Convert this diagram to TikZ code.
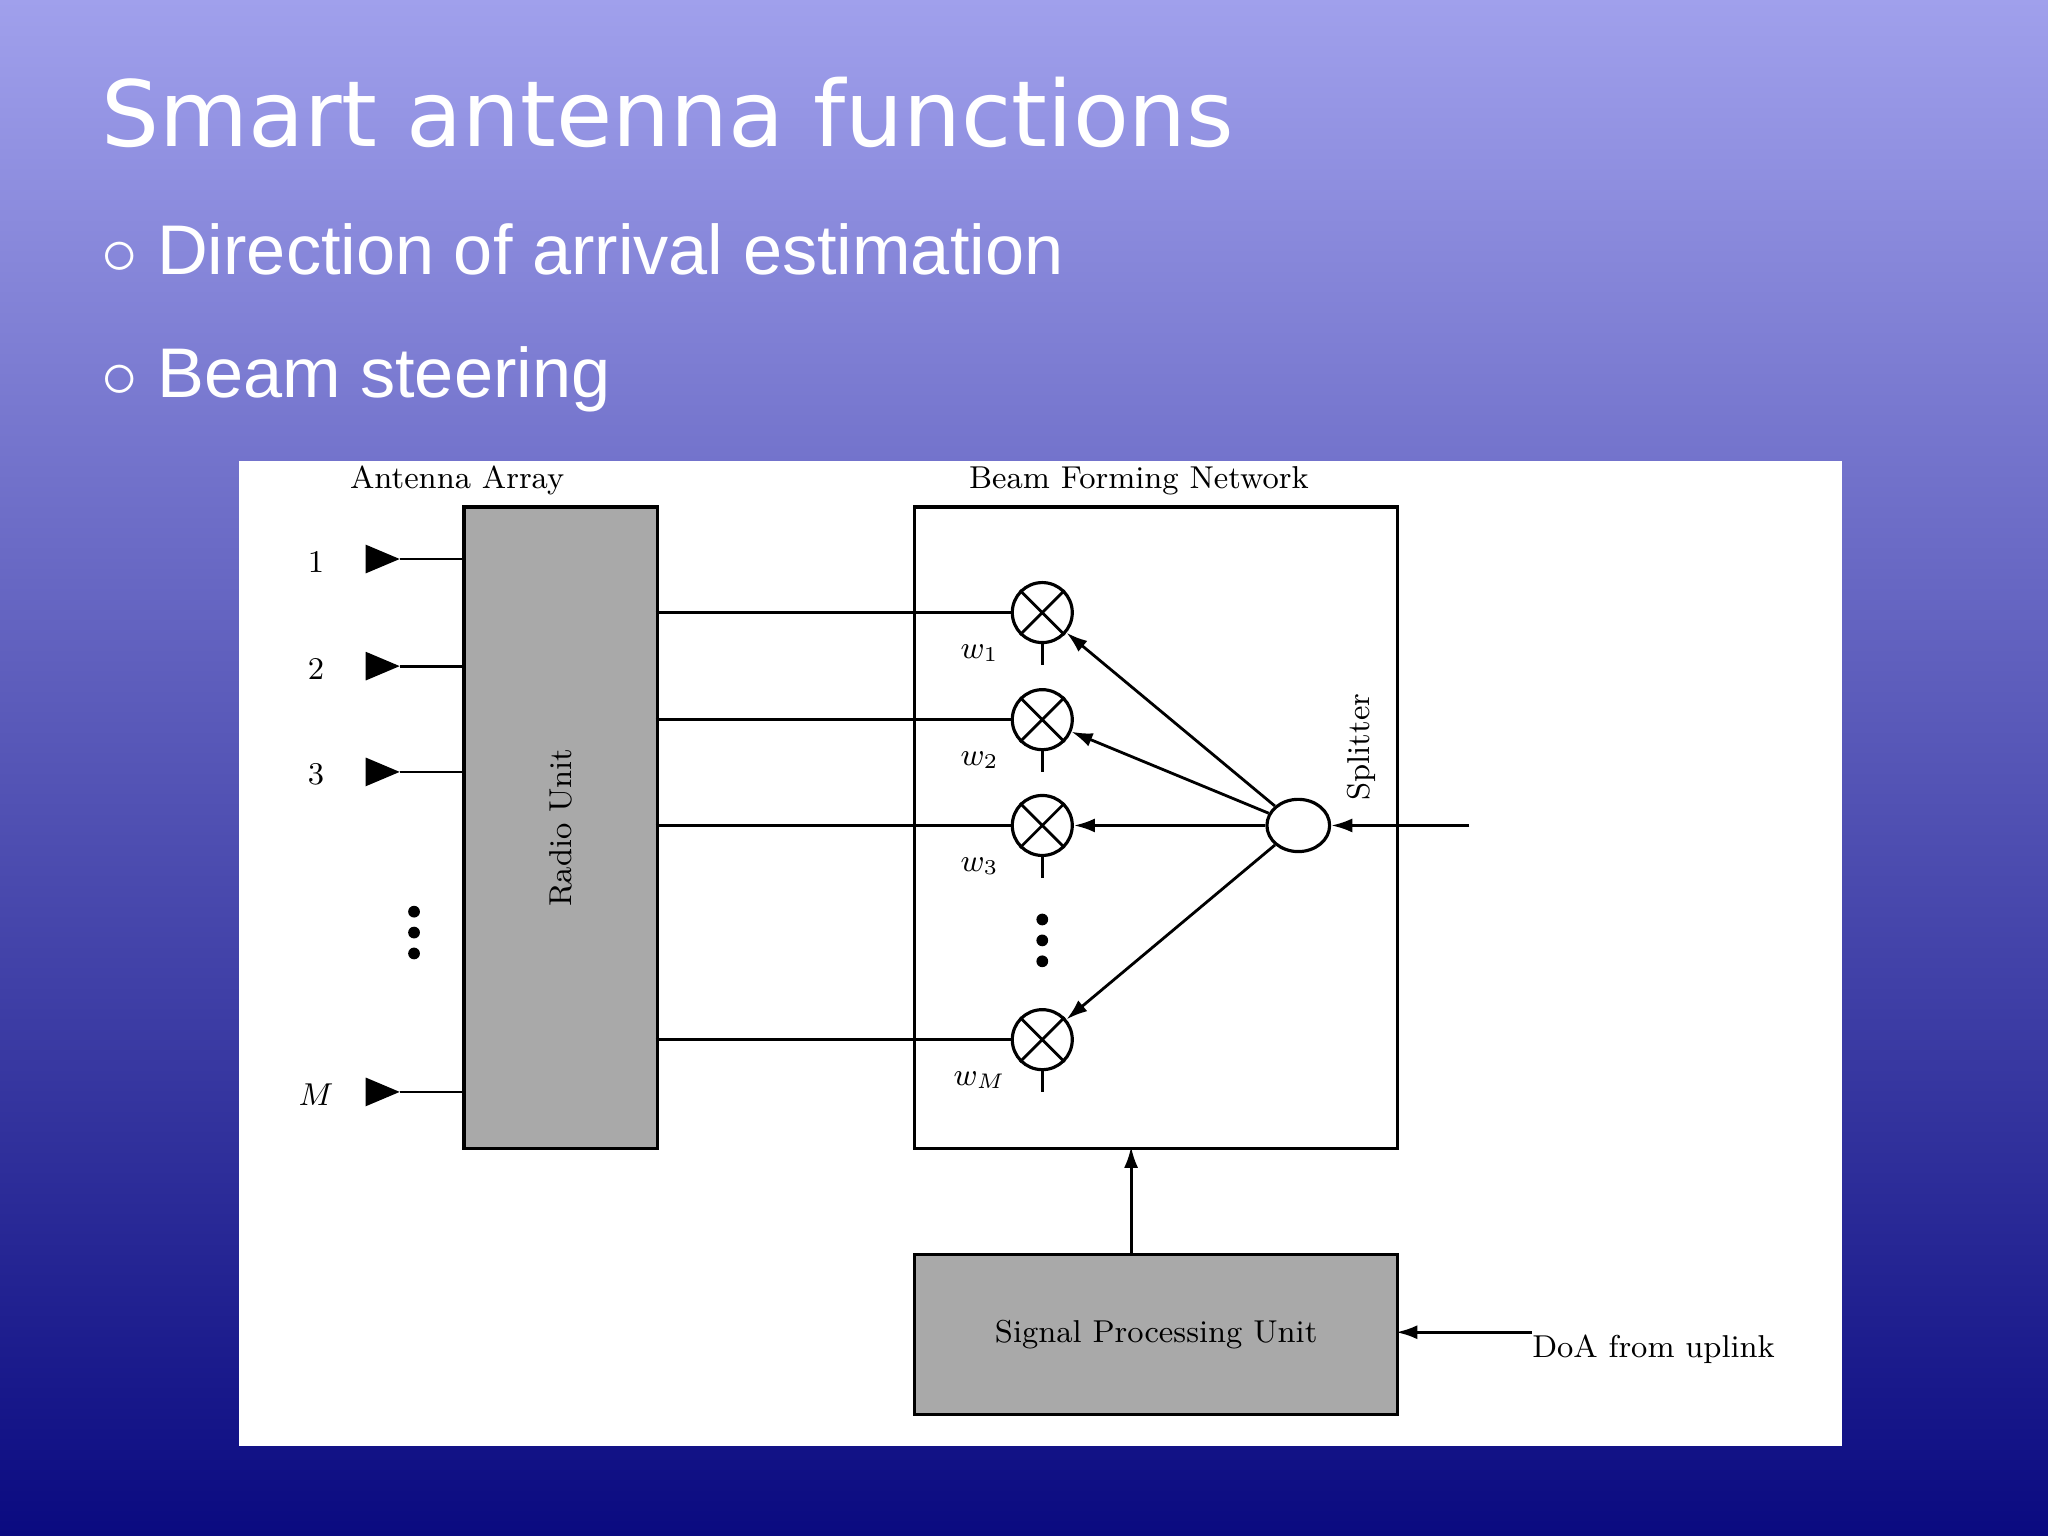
\documentclass[tikz,border=0pt]{standalone}
\usepackage{fontspec}
\setsansfont{Liberation Sans}
\newfontfamily\titlefont{DejaVu Sans}
\usetikzlibrary{arrows.meta,shapes.geometric}
\definecolor{grayfill}{HTML}{A9A9A9}
\begin{document}
\begin{tikzpicture}[x=0.013061cm,y=-0.013061cm,
  lbl/.style={font=\fontsize{9}{10}\selectfont},
  mult/.style={circle,draw,line width=0.9pt,minimum size=0.6cm,inner sep=0pt},
  wire/.style={line width=0.8pt},
  arr/.style={line width=0.8pt,-{Latex[length=6pt,width=4pt]}},
  gbox/.style={draw,line width=0.9pt,fill=grayfill},
  ant/.style={fill=black}]
\useasboundingbox (0,0) rectangle (1568,1176);
\shade[top color={rgb,255:red,160;green,160;blue,236},middle color={rgb,255:red,100;green,100;blue,200},bottom color={rgb,255:red,10;green,10;blue,128}] (0,0) rectangle (1568,1176);
\node[anchor=base west,text=white,font=\titlefont\fontsize{26}{30}\selectfont] (title) at (68,112) {Smart antenna functions};
\node[anchor=base west,text=white,font=\sffamily\fontsize{20}{24}\selectfont] (b1) at (68,210) {$\circ$ Direction of arrival estimation};
\node[anchor=base west,text=white,font=\sffamily\fontsize{20}{24}\selectfont] (b2) at (68,304) {$\circ$ Beam steering};
\fill[white] (183,353) rectangle (1410,1107);
% antenna array
\node[lbl] (aa) at (350,368) {Antenna Array};
\node[gbox,minimum width=148*0.013061cm,minimum height=491*0.013061cm,anchor=north west] (ru) at (354,387) {};
\node[lbl,rotate=90] at (ru.center) {Radio Unit};
\foreach \y/\t [count=\i] in {428/1,510/2,591/3,836/$M$}{
  \fill[ant] (280,\y-11) -- (306,\y) -- (280,\y+11) -- cycle;
  \coordinate (a\i) at (306,\y);
  \draw[wire] (a\i) -- (354,\y);
  \node[lbl] (al\i) at (242,\y+2) {\t};
}
\foreach \y in {698,714,730} \fill (317,\y) circle (4.5);
% BFN
\node[lbl] (bt) at (872,368) {Beam Forming Network};
\node[draw,line width=0.9pt,minimum width=370*0.013061cm,minimum height=491*0.013061cm,anchor=north west] (bfn) at (699,387) {};
\foreach \y/\w [count=\i] in {469/1,551/2,632/3,796/M}{
  \node[mult] (m\i) at (798,\y) {};
  \draw[wire] (m\i.north west) -- (m\i.south east) (m\i.north east) -- (m\i.south west);
  \draw[wire] (502,\y) -- (m\i.west);
  \draw[wire] (m\i.south) -- (798,\y+40);
  \node[lbl] (wl\i) at (750,\y+31) {$w_{\w}$};
}
\foreach \y in {704,720,736} \fill (798,\y) circle (4.5);
\node[ellipse,draw,line width=0.9pt,minimum width=48*0.013061cm,minimum height=40*0.013061cm,inner sep=0pt] (sp) at (994,632) {};
\node[lbl,rotate=90] (spl) at (1042,572) {Splitter};
\draw[arr] (sp) -- (m1);
\draw[arr] (sp) -- (m2);
\draw[arr] (sp) -- (m3);
\draw[arr] (sp) -- (m4);
\coordinate (in) at (1125,632);
\draw[arr] (in) -- (sp);
% SPU
\node[gbox,minimum width=370*0.013061cm,minimum height=123*0.013061cm,anchor=north west] (spu) at (699,959) {};
\node[lbl] at (spu.center) {Signal Processing Unit};
\draw[arr] (866,959) -- (866,878);
\coordinate (doa) at (1173,1020);
\draw[arr] (doa) -- (1069,1020);
\node[lbl] (doal) at (1266,1033) {DoA from uplink};
\end{tikzpicture}
\end{document}
